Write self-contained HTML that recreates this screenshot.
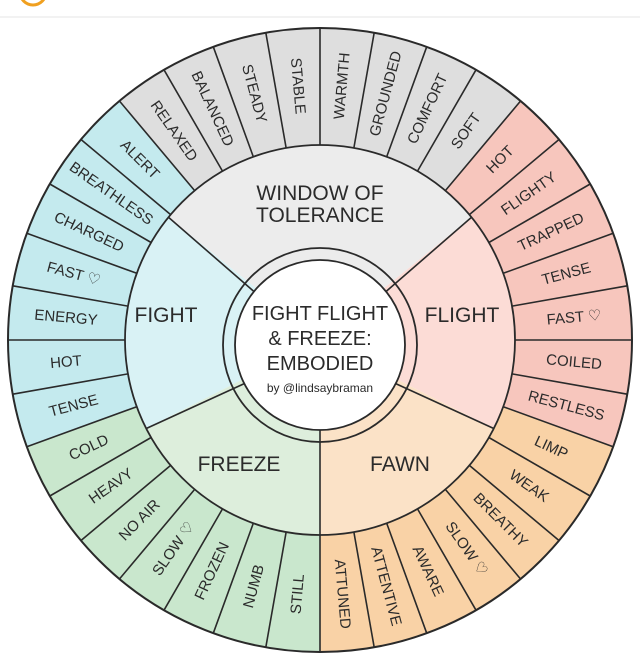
<!DOCTYPE html>
<html><head><meta charset="utf-8">
<style>
html,body{margin:0;padding:0;background:#fff;width:640px;height:665px;overflow:hidden}
svg{display:block}
text{font-family:"Liberation Sans Narrow","Liberation Sans",sans-serif;fill:#2b2b2b}
</style></head><body>
<svg id="s" width="640" height="665" viewBox="0 0 640 665" xmlns="http://www.w3.org/2000/svg">
<circle cx="33" cy="-8" r="13" fill="none" stroke="#f0a020" stroke-width="3"/>
<line x1="0" y1="17" x2="640" y2="17" stroke="#e4e4e4" stroke-width="1"/>
<g id="g"></g>
</svg>
<script>
var cx=320,cy=340,R=312,RM=195,RI=97,RW=85,ccy=345;
var g=document.getElementById('g');
function P(r,a,y0){var t=a*Math.PI/180;return [cx+r*Math.cos(t),(y0||cy)-r*Math.sin(t)];}
function sector(r1,r2,a1,a2,fill){
 var p1=P(r2,a1),p2=P(r2,a2),p3=P(r1,a2),p4=P(r1,a1);
 var large=(a2-a1)>180?1:0;
 var d='M'+p1+' A'+r2+' '+r2+' 0 '+large+' 0 '+p2+' L'+p3+' A'+r1+' '+r1+' 0 '+large+' 1 '+p4+' Z';
 var e=document.createElementNS('http://www.w3.org/2000/svg','path');
 e.setAttribute('d',d);e.setAttribute('fill',fill);e.setAttribute('stroke','none');g.appendChild(e);}
function el(tag,attrs,txt){var e=document.createElementNS('http://www.w3.org/2000/svg',tag);for(var k in attrs)e.setAttribute(k,attrs[k]);if(txt)e.textContent=txt;g.appendChild(e);return e;}
var outer=[[50,130,'#dedede'],[130,200,'#c4eaee'],[200,270,'#c9e7cd'],[270,340,'#f9d2a6'],[340,410,'#f7c6bd']];
outer.forEach(function(o){sector(RM,R,o[0],o[1],o[2]);});
var inner=[[39,141,'#ececec'],[141,207,'#d9f2f5'],[207,270,'#ddeedc'],[270,333,'#fbe2c7'],[333,399,'#fcdcd6']];
inner.forEach(function(o){sector(20,RM,o[0],o[1],o[2]);});
for(var a=0;a<360;a+=10){var p=P(RM,a),q=P(R,a);el('line',{x1:p[0],y1:p[1],x2:q[0],y2:q[1],stroke:'#2a2a2a','stroke-width':1.6});}
[39,141,207,270,333].forEach(function(a){var p=P(RW,a,ccy),q=P(RM,a);el('line',{x1:p[0],y1:p[1],x2:q[0],y2:q[1],stroke:'#2a2a2a','stroke-width':1.6});});
el('circle',{cx:cx,cy:cy,r:R,fill:'none',stroke:'#2a2a2a','stroke-width':2});
el('circle',{cx:cx,cy:cy,r:RM,fill:'none',stroke:'#2a2a2a','stroke-width':1.8});
el('circle',{cx:cx,cy:ccy,r:RI,fill:'none',stroke:'#2a2a2a','stroke-width':1.8});
el('circle',{cx:cx,cy:ccy,r:RW,fill:'#fff',stroke:'#2a2a2a','stroke-width':1.8});
var words={125:'RELAXED',115:'BALANCED',105:'STEADY',95:'STABLE',85:'WARMTH',75:'GROUNDED',65:'COMFORT',55:'SOFT',
135:'ALERT',145:'BREATHLESS',155:'CHARGED',165:'FAST ♡',175:'ENERGY',185:'HOT',195:'TENSE',
205:'COLD',215:'HEAVY',225:'NO AIR',235:'SLOW ♡',245:'FROZEN',255:'NUMB',265:'STILL',
275:'ATTUNED',285:'ATTENTIVE',295:'AWARE',305:'SLOW ♡',315:'BREATHY',325:'WEAK',335:'LIMP',
345:'RESTLESS',355:'COILED',5:'FAST ♡',15:'TENSE',25:'TRAPPED',35:'FLIGHTY',45:'HOT'};
for(var k in words){var a=+k;var p=P(255,a);var rot=(a>90&&a<270)?(180-a):(-a);
 el('text',{x:p[0],y:p[1],'text-anchor':'middle','dominant-baseline':'central','font-size':15,transform:'rotate('+rot+' '+p[0]+' '+p[1]+')'},words[k]);}
function T(x,y,t,fs){el('text',{x:x,y:y,'text-anchor':'middle','font-size':fs||21},t);}
T(320,200,'WINDOW OF',21);T(320,222,'TOLERANCE',21);
T(166,322,'FIGHT',21);T(462,322,'FLIGHT',21);
T(239,471,'FREEZE',21);T(400,471,'FAWN',21);
T(320,320,'FIGHT FLIGHT',20);T(320,345,'& FREEZE:',20);T(320,370,'EMBODIED',20);
T(320,392,'by @lindsaybraman',12);
</script>
</body></html>
